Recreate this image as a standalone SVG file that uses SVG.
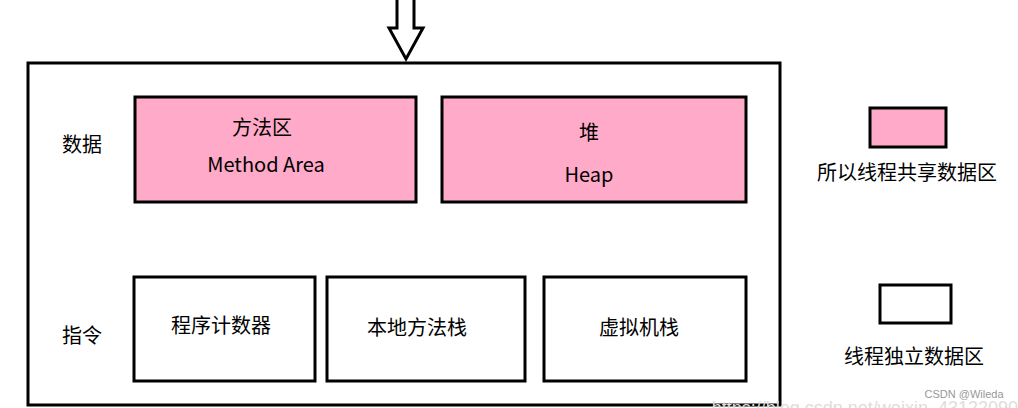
<svg xmlns="http://www.w3.org/2000/svg" width="1018" height="408" viewBox="0 0 1018 408">
<style>
text{font-family:"Microsoft YaHei","Noto Sans CJK SC",sans-serif;font-size:20px;fill:#000;text-anchor:middle}
.b{stroke:#000;stroke-width:3;fill:#fff}
.p{fill:#FFAAC8}
</style>
<rect width="1018" height="408" fill="#fff"/>
<g id="outer"><rect class="b" x="28" y="63" width="752" height="342"/></g>
<g id="arrow"><path class="b" d="M397,0 V28 H389 L406,59 L423,28 H414 V0" stroke-width="2.5"/></g>
<text x="82" y="152">数据</text>
<text x="82" y="343">指令</text>
<g id="method"><rect class="b p" x="135" y="97" width="281" height="105"/><text x="262" y="135">方法区</text><text x="266" y="172">Method Area</text></g>
<g id="heap"><rect class="b p" x="442" y="97" width="304" height="105"/><text x="589" y="140">堆</text><text x="589" y="182">Heap</text></g>
<g id="pc"><rect class="b" x="134" y="277" width="181" height="104"/><text x="221" y="333">程序计数器</text></g>
<g id="native"><rect class="b" x="327" y="277" width="198" height="104"/><text x="417" y="335">本地方法栈</text></g>
<g id="vm"><rect class="b" x="544" y="277" width="202" height="104"/><text x="639" y="335">虚拟机栈</text></g>
<g id="legend1"><rect class="b p" x="870" y="108" width="76" height="39"/><text x="907" y="180">所以线程共享数据区</text></g>
<g id="legend2"><rect class="b" x="880" y="285" width="71" height="38"/><text x="914" y="364">线程独立数据区</text></g>
<g id="connectors"></g>
<text x="964" y="398" style="font-size:11px;fill:#999;font-family:'Liberation Sans',sans-serif">CSDN @Wileda</text>
<text x="1018" y="414" style="font-size:18px;fill:#ddd;text-anchor:end;font-family:'Liberation Sans',sans-serif">https://blog.csdn.net/weixin_43122090</text>
</svg>
